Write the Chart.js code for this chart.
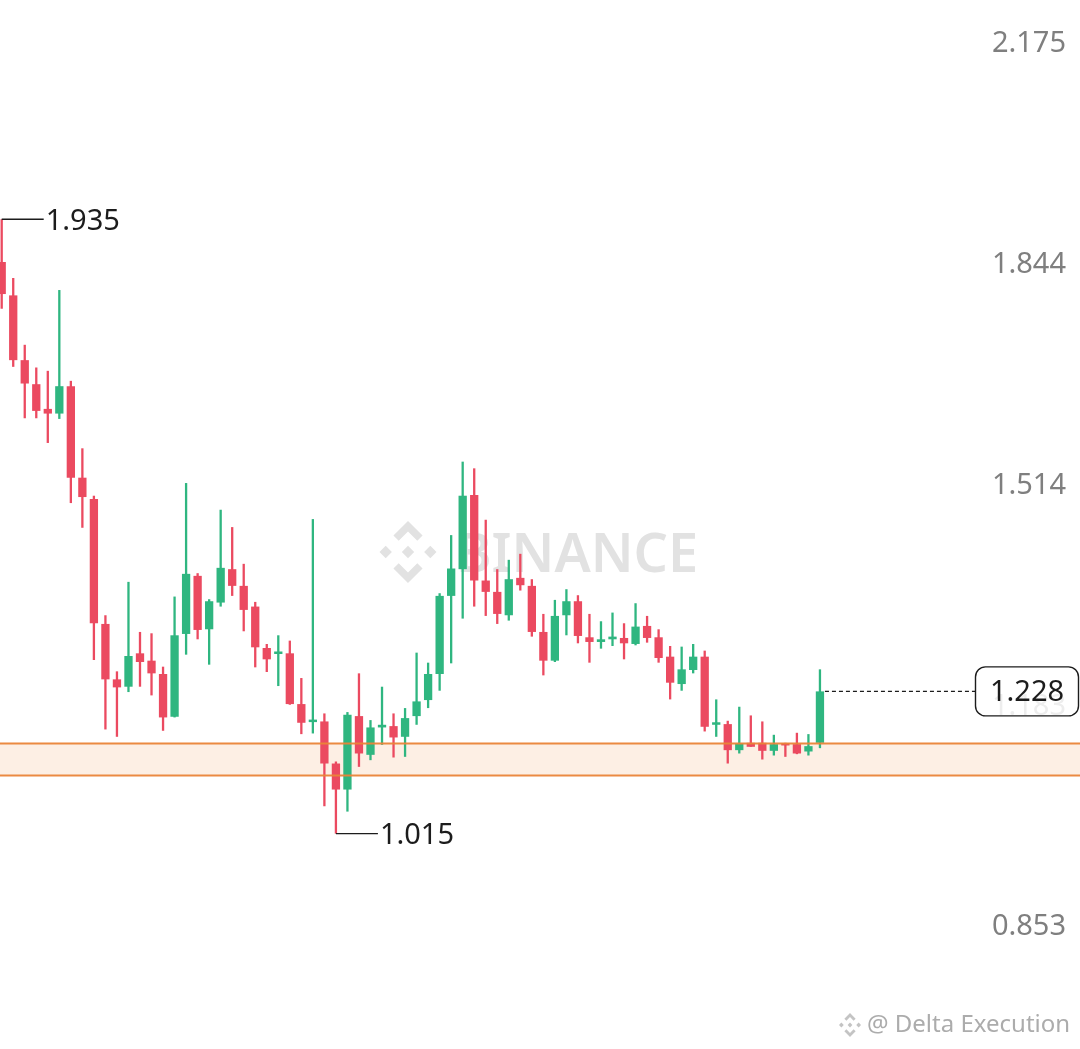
<!DOCTYPE html>
<html lang="en">

<head>
    <meta charset="utf-8">
    <meta content="width=device-width, initial-scale=1.0" name="viewport">
    <style>
        html, body { margin: 0; padding: 0; background: #ffffff; }
        #wrap { width: 1080px; height: 1049px; }
    </style>
</head>

<body>
    <div id="wrap">
        <canvas id="priceChart" width="1080" height="1049"></canvas>
    </div>
    <script src="https://cdn.jsdelivr.net/npm/chart.js"></script>
    <script>
        // candle values, one entry per candle
        const opens = [1.871, 1.821, 1.724, 1.688, 1.651, 1.644, 1.685, 1.548, 1.516, 1.329,
            1.246, 1.235, 1.285, 1.274, 1.254, 1.190, 1.314, 1.401, 1.321, 1.361,
            1.411, 1.386, 1.355, 1.293, 1.284, 1.285, 1.209, 1.182, 1.183, 1.120,
            1.081, 1.191, 1.133, 1.174, 1.176, 1.160, 1.191, 1.215, 1.254, 1.371,
            1.411, 1.522, 1.394, 1.377, 1.342, 1.398, 1.386, 1.317, 1.274, 1.342,
            1.363, 1.309, 1.302, 1.306, 1.308, 1.299, 1.326, 1.309, 1.280, 1.239,
            1.260, 1.280, 1.178, 1.179, 1.140, 1.151, 1.151, 1.139, 1.150, 1.149,
            1.138, 1.151];
        const highs = [1.935, 1.847, 1.747, 1.713, 1.708, 1.829, 1.693, 1.592, 1.521, 1.342,
            1.258, 1.392, 1.317, 1.315, 1.265, 1.370, 1.540, 1.405, 1.366, 1.500,
            1.474, 1.419, 1.362, 1.299, 1.312, 1.304, 1.248, 1.486, 1.195, 1.123,
            1.197, 1.255, 1.185, 1.235, 1.195, 1.203, 1.286, 1.271, 1.375, 1.462,
            1.572, 1.562, 1.485, 1.411, 1.425, 1.434, 1.396, 1.344, 1.365, 1.381,
            1.372, 1.344, 1.333, 1.346, 1.330, 1.360, 1.341, 1.321, 1.296, 1.295,
            1.299, 1.289, 1.216, 1.184, 1.205, 1.192, 1.183, 1.163, 1.151, 1.166,
            1.164, 1.261];
        const lows = [1.801, 1.714, 1.637, 1.637, 1.600, 1.636, 1.510, 1.473, 1.275, 1.171,
            1.160, 1.227, 1.235, 1.222, 1.169, 1.189, 1.283, 1.306, 1.268, 1.355,
            1.371, 1.318, 1.264, 1.257, 1.236, 1.208, 1.164, 1.165, 1.056, 1.015,
            1.048, 1.115, 1.125, 1.148, 1.129, 1.130, 1.178, 1.203, 1.229, 1.270,
            1.337, 1.355, 1.341, 1.329, 1.334, 1.379, 1.310, 1.252, 1.272, 1.312,
            1.300, 1.271, 1.292, 1.296, 1.276, 1.297, 1.301, 1.271, 1.216, 1.229,
            1.255, 1.168, 1.160, 1.120, 1.135, 1.145, 1.126, 1.132, 1.130, 1.134,
            1.132, 1.143];
        const closes = [1.823, 1.724, 1.689, 1.648, 1.644, 1.685, 1.548, 1.519, 1.330, 1.246,
            1.234, 1.281, 1.272, 1.255, 1.189, 1.312, 1.404, 1.320, 1.363, 1.413,
            1.386, 1.350, 1.294, 1.276, 1.287, 1.209, 1.181, 1.185, 1.120, 1.081,
            1.193, 1.135, 1.174, 1.178, 1.159, 1.188, 1.213, 1.254, 1.371, 1.412,
            1.521, 1.394, 1.377, 1.344, 1.396, 1.387, 1.317, 1.274, 1.341, 1.363,
            1.311, 1.302, 1.306, 1.310, 1.300, 1.325, 1.308, 1.278, 1.241, 1.261,
            1.280, 1.175, 1.181, 1.140, 1.150, 1.145, 1.139, 1.149, 1.147, 1.135,
            1.146, 1.228];
        const priceTicks = [2.175, 1.844, 1.514, 1.183, 0.853];
        const zoneBottom = 1.103;
        const zoneTop = 1.151;

        const UP = '#2fb680';
        const DOWN = '#eb4a60';
        const FONT = '"Noto Sans", "Open Sans", sans-serif';

        const idx = opens.map((_, i) => i);
        const candleColors = idx.map(i => closes[i] >= opens[i] ? UP : DOWN);
        const lastPrice = closes[closes.length - 1];
        const hiIdx = highs.indexOf(Math.max(...highs));
        const loIdx = lows.indexOf(Math.min(...lows));

        function logo(ctx, cx, cy, s) {
            const shapes = [
                [[0, -1], [0.47, -0.53], [0.3, -0.36], [0, -0.66], [-0.3, -0.36], [-0.47, -0.53]],
                [[0, 1], [0.47, 0.53], [0.3, 0.36], [0, 0.66], [-0.3, 0.36], [-0.47, 0.53]],
                [[0, -0.2], [0.2, 0], [0, 0.2], [-0.2, 0]],
                [[-0.92, 0], [-0.72, -0.2], [-0.52, 0], [-0.72, 0.2]],
                [[0.92, 0], [0.72, -0.2], [0.52, 0], [0.72, 0.2]]
            ];
            shapes.forEach(pts => {
                ctx.beginPath();
                pts.forEach((p, k) => {
                    const px = cx + p[0] * s, py = cy + p[1] * s;
                    k ? ctx.lineTo(px, py) : ctx.moveTo(px, py);
                });
                ctx.closePath();
                ctx.fill();
            });
        }

        const overlays = {
            id: 'overlays',
            beforeDatasetsDraw(chart) {
                const {ctx, scales: {y}} = chart;
                const top = y.getPixelForValue(zoneTop);
                const bot = y.getPixelForValue(zoneBottom);
                ctx.save();
                ctx.fillStyle = '#fdefe4';
                ctx.fillRect(0, top, chart.width, bot - top);

                // watermark
                ctx.fillStyle = '#e2e2e2';
                logo(ctx, chart.width / 2 - 132, 552, 31);
                ctx.font = '600 54px ' + FONT;
                ctx.textAlign = 'left';
                ctx.textBaseline = 'alphabetic';
                ctx.fillText('BINANCE', 456, 572);
                ctx.restore();
            },
            afterDatasetsDraw(chart) {
                const {ctx, scales: {x, y}} = chart;
                ctx.save();
                ctx.strokeStyle = 'rgba(234, 132, 56, 0.95)';
                ctx.lineWidth = 2.2;
                [zoneTop, zoneBottom].forEach(v => {
                    const py = Math.round(y.getPixelForValue(v)) + 0.5;
                    ctx.beginPath();
                    ctx.moveTo(0, py);
                    ctx.lineTo(chart.width, py);
                    ctx.stroke();
                });

                // high / low markers
                ctx.strokeStyle = '#1c1c1c';
                ctx.fillStyle = '#1c1c1c';
                ctx.lineWidth = 1.4;
                ctx.font = '29px ' + FONT;
                ctx.textAlign = 'left';
                ctx.textBaseline = 'middle';
                [[hiIdx, highs[hiIdx]], [loIdx, lows[loIdx]]].forEach(([i, v]) => {
                    const px = x.getPixelForValue(i);
                    const py = y.getPixelForValue(v);
                    ctx.beginPath();
                    ctx.moveTo(px, py);
                    ctx.lineTo(px + 42, py);
                    ctx.stroke();
                    ctx.fillText(v.toFixed(3), px + 44, py + 2);
                });

                // last price dashed line
                const lx = x.getPixelForValue(closes.length - 1) + 5;
                const ly = y.getPixelForValue(lastPrice);
                ctx.setLineDash([4, 3]);
                ctx.lineWidth = 1.3;
                ctx.beginPath();
                ctx.moveTo(lx, ly);
                ctx.lineTo(975, ly);
                ctx.stroke();
                ctx.restore();
            },
            afterDraw(chart) {
                const {ctx, scales: {y}} = chart;
                const ly = y.getPixelForValue(lastPrice);
                ctx.save();
                ctx.beginPath();
                ctx.roundRect(975.5, ly - 24.5, 103, 49, 10);
                ctx.fillStyle = 'rgba(255, 255, 255, 0.86)';
                ctx.fill();
                ctx.strokeStyle = '#1c1c1c';
                ctx.lineWidth = 1.4;
                ctx.stroke();
                ctx.fillStyle = '#1c1c1c';
                ctx.font = '29px ' + FONT;
                ctx.textAlign = 'center';
                ctx.textBaseline = 'middle';
                ctx.fillText(lastPrice.toFixed(3), 1027, ly + 1);

                // credit
                ctx.fillStyle = '#c4c4c4';
                logo(ctx, 850, 1025, 12);
                ctx.fillStyle = '#acacac';
                ctx.font = '24px ' + FONT;
                ctx.textAlign = 'left';
                ctx.fillText('@ Delta Execution', 867, 1025);
                ctx.restore();
            }
        };

        new Chart(document.getElementById('priceChart'), {
            type: 'bar',
            data: {
                datasets: [{
                    label: 'body',
                    data: idx.map(i => ({x: i, y: [opens[i], closes[i]]})),
                    backgroundColor: candleColors,
                    grouped: false,
                    categoryPercentage: 1,
                    barPercentage: 0.72,
                    minBarLength: 2.5,
                    order: 1
                }, {
                    label: 'wick',
                    data: idx.map(i => ({x: i, y: [lows[i], highs[i]]})),
                    backgroundColor: candleColors,
                    grouped: false,
                    categoryPercentage: 1,
                    barPercentage: 0.2,
                    order: 2
                }]
            },
            options: {
                responsive: false,
                animation: false,
                events: [],
                layout: { padding: 0 },
                plugins: {
                    legend: { display: false },
                    tooltip: { enabled: false }
                },
                scales: {
                    x: {
                        type: 'linear',
                        min: -0.1475,
                        max: 92.35,
                        offset: false,
                        display: false
                    },
                    y: {
                        position: 'right',
                        min: 0.6925,
                        max: 2.2633,
                        afterBuildTicks: s => { s.ticks = priceTicks.map(v => ({value: v})); },
                        afterFit: s => { s.width = 14; s.paddingTop = 0; s.paddingBottom = 0; },
                        grid: { display: false, drawTicks: false },
                        border: { display: false },
                        ticks: {
                            mirror: true,
                            padding: 0,
                            labelOffset: -15,
                            color: '#7f7f7f',
                            font: { family: FONT, size: 29 },
                            callback: v => Number(v).toFixed(3)
                        }
                    }
                }
            },
            plugins: [overlays]
        });
    </script>
</body>

</html>
